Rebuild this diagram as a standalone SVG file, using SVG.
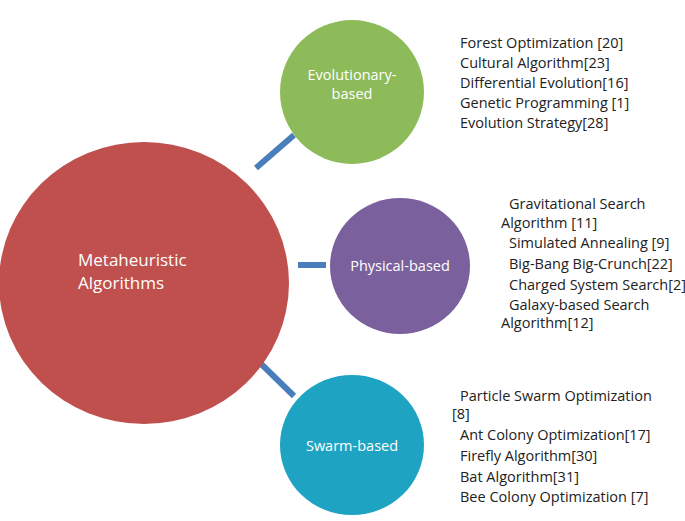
<svg xmlns="http://www.w3.org/2000/svg" width="685" height="521" viewBox="0 0 685 521">
<style>
.t{font-family:"Open Sans","Liberation Sans",sans-serif;font-size:14.5px;fill:#222}
.w{font-family:"Open Sans","Liberation Sans",sans-serif;font-size:14.5px;fill:#fff}
.c{stroke:#4a7ebb;stroke-width:6}
</style>
<rect width="685" height="521" fill="#fff"/>
<g id="connectors">
<line class="c" x1="256" y1="168" x2="294" y2="135"/>
<line class="c" x1="298" y1="265" x2="326" y2="265"/>
<line class="c" x1="256" y1="359" x2="294" y2="396"/>
</g>
<g id="meta"><ellipse cx="144" cy="283" rx="145" ry="141" fill="#c0504d"/>
<text class="w" x="78" y="266" style="font-size:17px">Metaheuristic</text><text class="w" x="78" y="289" style="font-size:17px">Algorithms</text></g>
<g id="evo"><ellipse cx="352" cy="92" rx="72" ry="72" fill="#8ebb5a"/>
<text class="w" x="352" y="80" text-anchor="middle">Evolutionary-</text><text class="w" x="352" y="99" text-anchor="middle">based</text></g>
<g id="phys"><ellipse cx="400" cy="266" rx="70" ry="68" fill="#7a609d"/>
<text class="w" x="400" y="271" text-anchor="middle">Physical-based</text></g>
<g id="swarm"><ellipse cx="352" cy="445" rx="72" ry="70" fill="#1fa3c2"/>
<text class="w" x="352" y="451" text-anchor="middle">Swarm-based</text></g>
<g id="evo-list">
<text class="t" x="460" y="48">Forest Optimization [20]</text>
<text class="t" x="460" y="68">Cultural Algorithm[23]</text>
<text class="t" x="460" y="88">Differential Evolution[16]</text>
<text class="t" x="460" y="108">Genetic Programming [1]</text>
<text class="t" x="460" y="128">Evolution Strategy[28]</text>
</g>
<g id="phys-list">
<text class="t" x="509" y="209">Gravitational Search</text>
<text class="t" x="501" y="228">Algorithm [11]</text>
<text class="t" x="509" y="248">Simulated Annealing [9]</text>
<text class="t" x="509" y="269">Big-Bang Big-Crunch[22]</text>
<text class="t" x="509" y="290">Charged System Search[2]</text>
<text class="t" x="509" y="310">Galaxy-based Search</text>
<text class="t" x="501" y="328">Algorithm[12]</text>
</g>
<g id="swarm-list">
<text class="t" x="460" y="401">Particle Swarm Optimization</text>
<text class="t" x="452" y="419">[8]</text>
<text class="t" x="460" y="440">Ant Colony Optimization[17]</text>
<text class="t" x="460" y="461">Firefly Algorithm[30]</text>
<text class="t" x="460" y="482">Bat Algorithm[31]</text>
<text class="t" x="460" y="502">Bee Colony Optimization [7]</text>
</g>
</svg>
